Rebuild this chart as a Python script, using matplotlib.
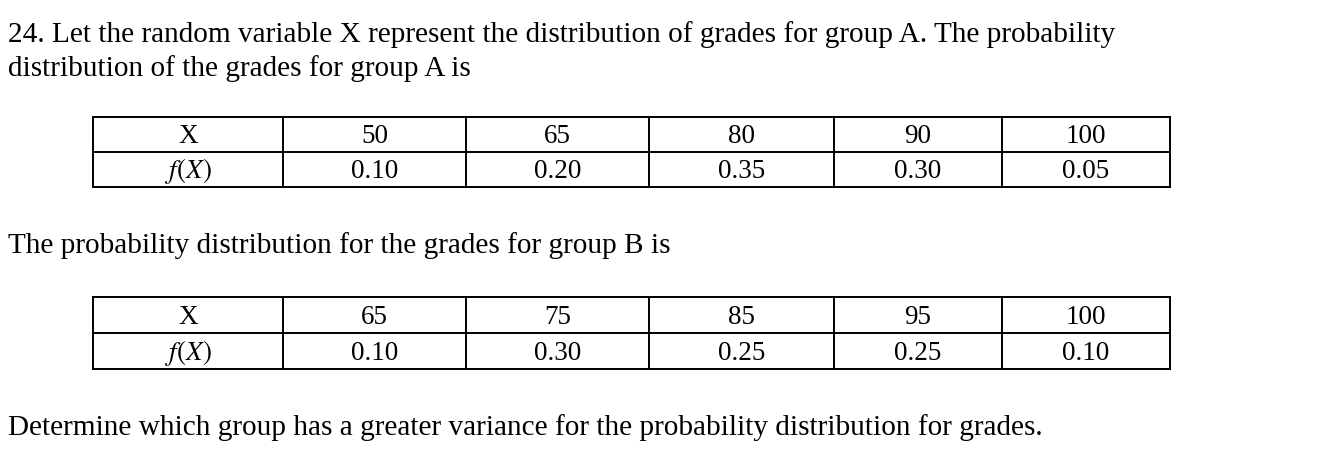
import matplotlib
matplotlib.use("Agg")
import matplotlib.pyplot as plt

plt.rcParams['font.family'] = ['Liberation Serif', 'DejaVu Serif']
plt.rcParams['mathtext.fontset'] = 'stix'

title_lines = ["24. Let the random variable X represent the distribution of grades for group A. The probability",
               "distribution of the grades for group A is"]
mid_text = "The probability distribution for the grades for group B is"
end_text = "Determine which group has a greater variance for the probability distribution for grades."

header = ["X", "$f(X)$"]
a_x = ["50", "65", "80", "90", "100"]
a_p = ["0.10", "0.20", "0.35", "0.30", "0.05"]
b_x = ["65", "75", "85", "95", "100"]
b_p = ["0.10", "0.30", "0.25", "0.25", "0.10"]

W, H = 1326, 468
fig = plt.figure(figsize=(W/100, H/100), dpi=100)
ax = fig.add_axes([0, 0, 1, 1])
ax.set_xlim(0, W); ax.set_ylim(H, 0); ax.axis('off')

fs = 21.1
ax.text(8, 35, title_lines[0], fontsize=fs, va='center', ha='left')
ax.text(8, 69, title_lines[1], fontsize=fs, va='center', ha='left')
ax.text(8, 246, mid_text, fontsize=fs, va='center', ha='left')
ax.text(8, 428, end_text, fontsize=fs, va='center', ha='left')

cols = [93, 283, 466, 649, 834, 1002, 1170]

def table(top, mid, bot, xs, ps):
    lw = 1.4
    for y in (top, mid, bot):
        ax.plot([cols[0], cols[-1]], [y, y], color='black', lw=lw)
    for x in cols:
        ax.plot([x, x], [top, bot], color='black', lw=lw)
    rows = [[header[0]] + xs, [header[1]] + ps]
    ys = [(top+mid)/2 + 2, (mid+bot)/2 + 2]
    for r, y in zip(rows, ys):
        for i, t in enumerate(r):
            cx = (cols[i] + cols[i+1]) / 2
            ax.text(cx, y, t, fontsize=19.5, ha='center', va='center')

table(117, 152, 187, a_x, a_p)
table(297, 333, 369, b_x, b_p)

fig.savefig("out.png", dpi=100)
